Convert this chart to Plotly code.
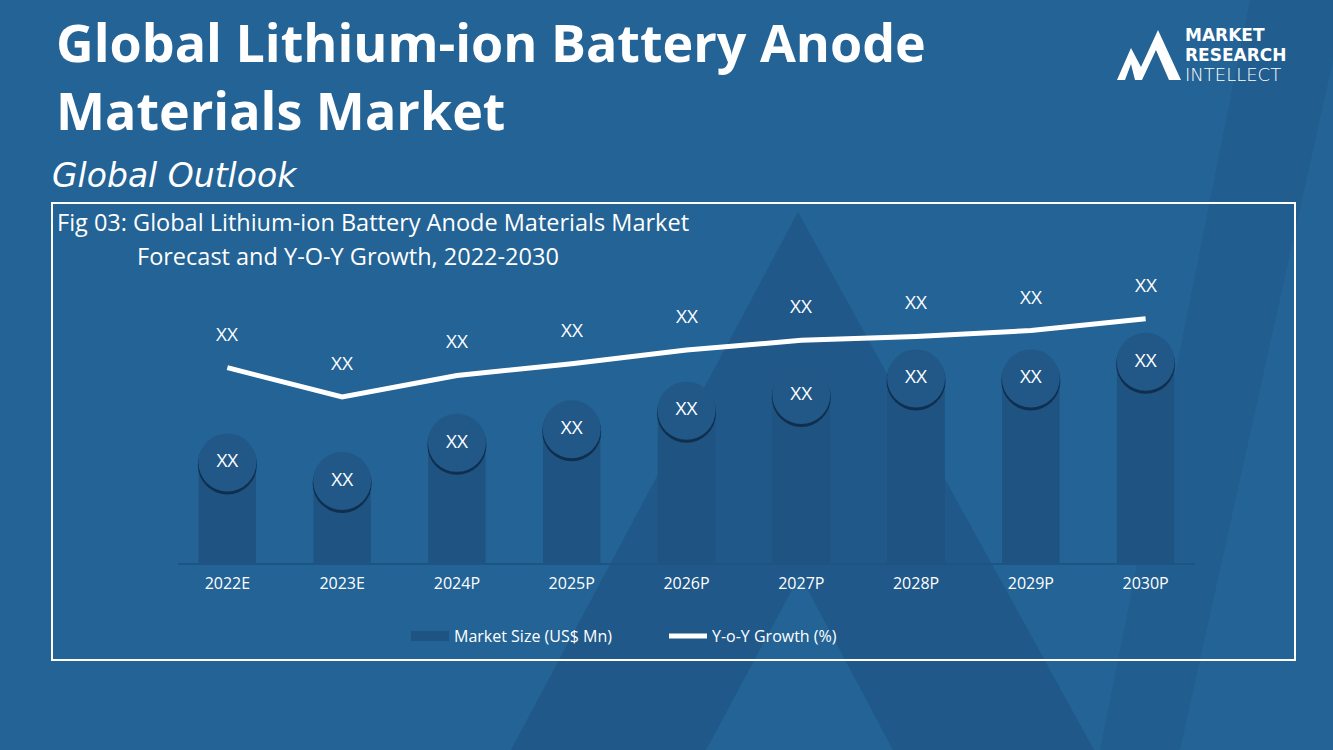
import plotly.graph_objects as go

# ---------------- data ----------------
categories = ["2022E", "2023E", "2024P", "2025P", "2026P", "2027P", "2028P", "2029P", "2030P"]
market_size = [10.3, 8.4, 12.3, 13.7, 15.6, 17.2, 18.9, 18.9, 20.6]
yoy_growth = [10.0, 8.5, 9.6, 10.2, 10.9, 11.4, 11.6, 11.9, 12.5]
bar_labels = ["XX"] * len(categories)
growth_labels = ["XX"] * len(categories)

title_text = "Global Lithium-ion Battery Anode<br>Materials Market"
subtitle = "Global Outlook"
fig_caption = ["Fig 03: Global Lithium-ion Battery Anode Materials Market",
               "Forecast and Y-O-Y Growth, 2022-2030"]

# ---------------- style ----------------
W, H = 1333, 750
L, R, T, B = 178, 138, 270, 187
PW, PH = W - L - R, H - T - B
BG = "#236395"
BAR = "#1f5382"
CIRCLE = "#215888"
WHITE = "#ffffff"


def xp(px):
    return (px - L) / PW


def yp(py):
    return (H - B - py) / PH


fig = go.Figure()

fig.add_trace(go.Bar(
    x=categories, y=market_size, width=0.5, marker=dict(color=BAR, line=dict(width=0)),
    name="Market Size (US$ Mn)", showlegend=False, hoverinfo="skip"))

# circle shadow (slightly lower than the circle)
shadow_off = 2.5 * 30 / PH
fig.add_trace(go.Scatter(
    x=categories, y=[v - shadow_off for v in market_size], mode="markers",
    marker=dict(size=59, color="rgba(12,35,60,0.75)", line=dict(width=0)),
    showlegend=False, hoverinfo="skip"))
fig.add_trace(go.Scatter(
    x=categories, y=market_size, mode="markers+text", text=bar_labels,
    textposition="middle center", textfont=dict(family="Open Sans", size=19, color=WHITE),
    marker=dict(size=58, color=CIRCLE, line=dict(width=0)),
    showlegend=False, hoverinfo="skip"))

fig.add_trace(go.Scatter(
    x=categories, y=yoy_growth, yaxis="y2", mode="lines",
    line=dict(color=WHITE, width=5), name="Y-o-Y Growth (%)", showlegend=False,
    hoverinfo="skip"))

# legend entries
fig.add_trace(go.Scatter(x=[categories[0]], y=[None], mode="lines",
                         line=dict(color=BAR, width=10), name="Market Size (US$ Mn)"))
fig.add_trace(go.Scatter(x=[categories[0]], y=[None], mode="lines",
                         line=dict(color=WHITE, width=5), name="Y-o-Y Growth (%)"))

annotations = []
for c, v, t in zip(categories, yoy_growth, growth_labels):
    annotations.append(dict(x=c, y=v, xref="x", yref="y2", text=t, showarrow=False,
                            yshift=34, font=dict(family="Open Sans", size=19, color=WHITE)))

# titles
annotations.append(dict(x=xp(54), y=yp(76), xref="paper", yref="paper", text=title_text,
                        showarrow=False, xanchor="left", yanchor="middle", align="left",
                        font=dict(family="Open Sans", size=52, color=WHITE, weight=700)))
annotations.append(dict(x=xp(50), y=yp(175), xref="paper", yref="paper", text=subtitle,
                        showarrow=False, xanchor="left", yanchor="middle",
                        font=dict(family="DejaVu Sans", size=33, color=WHITE, style="italic", weight=300)))
annotations.append(dict(x=xp(55), y=yp(222), xref="paper", yref="paper", text=fig_caption[0],
                        showarrow=False, xanchor="left", yanchor="middle",
                        font=dict(family="Open Sans", size=23.5, color=WHITE)))
annotations.append(dict(x=xp(135), y=yp(256), xref="paper", yref="paper", text=fig_caption[1],
                        showarrow=False, xanchor="left", yanchor="middle",
                        font=dict(family="Open Sans", size=23.5, color=WHITE)))
# logo text
for txt, py, wt, sz in [("MARKET", 35, 700, 17), ("RESEARCH", 55, 700, 17), ("INTELLECT", 74, 300, 18)]:
    annotations.append(dict(x=xp(1183), y=yp(py), xref="paper", yref="paper", text=txt,
                            showarrow=False, xanchor="left", yanchor="middle",
                            font=dict(family="DejaVu Sans", size=sz, color=WHITE, weight=wt)))


def path(points):
    s = "M " + " L ".join(f"{xp(a):.5f},{yp(b):.5f}" for a, b in points) + " Z"
    return s


shapes = [
    # faint background logo
    dict(type="path", xref="paper", yref="paper", layer="below", line=dict(width=0),
         fillcolor="rgba(25,70,115,0.35)",
         path=path([(798, 212), (1094, 750), (893, 750), (800, 575), (706, 750), (511, 750)])),
    dict(type="path", xref="paper", yref="paper", layer="below", line=dict(width=0),
         fillcolor="rgba(25,70,115,0.18)",
         path=path([(1250, 0), (1333, 0), (1333, 60), (1180, 750), (1100, 750)])),
    # chart frame
    dict(type="rect", xref="paper", yref="paper", x0=xp(52), x1=xp(1295), y0=yp(660), y1=yp(203),
         line=dict(color=WHITE, width=2), fillcolor="rgba(0,0,0,0)", layer="below"),
    # logo mark
    dict(type="path", xref="paper", yref="paper", line=dict(width=0), fillcolor=WHITE,
         path=path([(1117, 80), (1131, 48), (1141, 67), (1158, 30), (1181, 80), (1169, 80),
                    (1156, 50), (1142, 80), (1135, 80), (1131, 64), (1125, 80)])),
]

fig.update_layout(
    width=W, height=H, autosize=False,
    margin=dict(l=L, r=R, t=T, b=B, pad=0),
    paper_bgcolor=BG, plot_bgcolor="rgba(0,0,0,0)",
    barmode="overlay",
    xaxis=dict(type="category", categoryorder="array", categoryarray=categories,
               range=[-0.43, 8.43], showgrid=False, zeroline=False, showline=True,
               linecolor="#1c5484", linewidth=1.5, ticks="", ticklabelstandoff=5,
               tickfont=dict(family="Open Sans", size=16, color=WHITE)),
    yaxis=dict(range=[0, 30], visible=False, showgrid=False, zeroline=False),
    yaxis2=dict(range=[0, 15], overlaying="y", visible=False, showgrid=False, zeroline=False),
    showlegend=True,
    legend=dict(orientation="h", xref="container", yref="container", x=406 / W, y=1 - 636 / H,
                xanchor="left", yanchor="middle", bgcolor="rgba(0,0,0,0)", itemwidth=38,
                entrywidth=205, entrywidthmode="pixels",
                font=dict(family="Open Sans", size=16, color=WHITE), itemclick=False,
                tracegroupgap=0),
    annotations=annotations,
    shapes=shapes,
)

fig.write_html("out.html", config={"displayModeBar": False},
               post_script="document.body.style.margin='0';")
